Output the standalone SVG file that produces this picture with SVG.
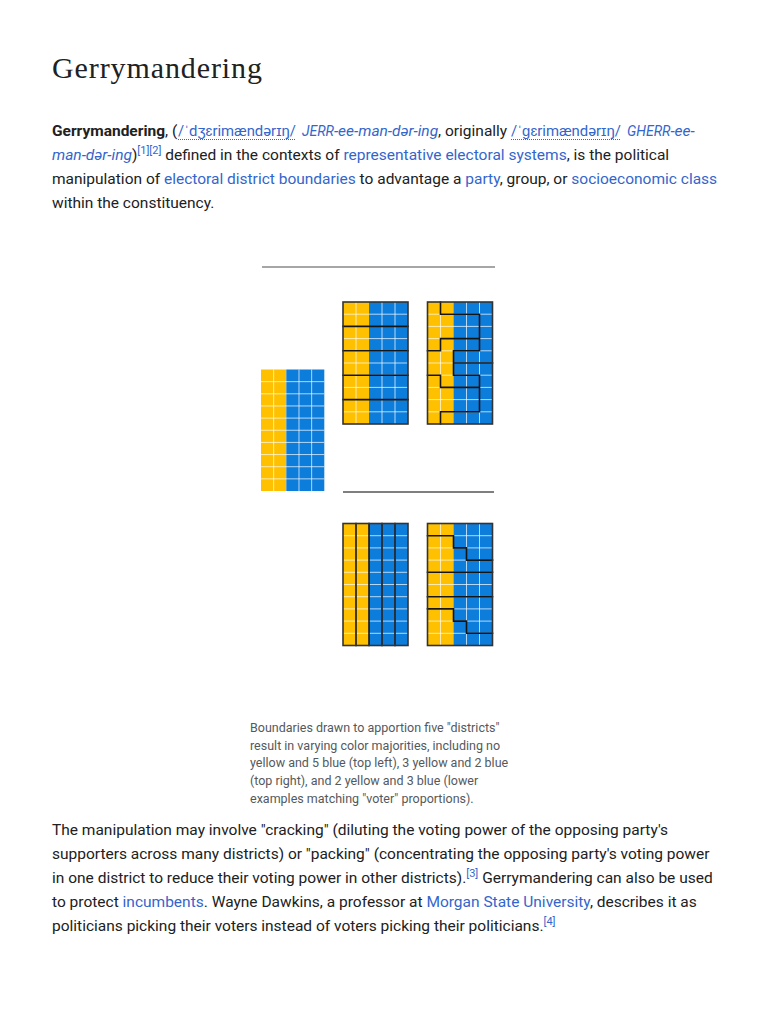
<svg xmlns="http://www.w3.org/2000/svg" xmlns:xlink="http://www.w3.org/1999/xlink" width="768" height="1024" viewBox="0 0 768 1024">
<style>
text{font-family:Roboto,"Liberation Sans",sans-serif;fill:#202122}
.body{font-size:15.5px}
.l{fill:#3366cc}
.i{font-style:italic}
.cap{font-size:12.5px;fill:#54595d}
.wl{stroke:#ffffff;stroke-opacity:0.7;stroke-width:1;fill:none}
.dl{stroke:#151515;stroke-width:1.6;fill:none;stroke-linecap:square}
.bd{stroke:#333333;stroke-width:1.6;fill:none}
.rule{stroke-width:1.6}
.dot{stroke:#3366cc;stroke-width:1;stroke-dasharray:1 1}
</style>
<defs>
<g id="base">
<rect x="0" y="0" width="26" height="122" fill="#FFC000"/>
<rect x="26" y="0" width="39" height="122" fill="#0D7DDC"/>
<path class="wl" d="M13 0V122M39 0V122M52 0V122M0 12.2H65M0 24.4H65M0 36.6H65M0 48.8H65M0 61H65M0 73.2H65M0 85.4H65M0 97.6H65M0 109.8H65"/>
</g>
</defs>
<rect width="768" height="1024" fill="#ffffff"/>
<g id="title">
<text x="52" y="78" font-size="30" textLength="210" style="font-family:'Liberation Serif',serif;fill:#202122">Gerrymandering</text>
</g>
<g id="intro">
<text class="body" x="52" y="136"><tspan font-weight="bold">Gerrymandering</tspan>, (</text>
<text class="body l" x="178" y="136" textLength="118" lengthAdjust="spacingAndGlyphs">/ˈdʒɛrimændərɪŋ/</text>
<text class="body" x="302" y="136"><tspan class="l i"><tspan font-size="14">JERR</tspan>-ee-man-dər-ing</tspan>, originally </text>
<text class="body l" x="511" y="136" textLength="110" lengthAdjust="spacingAndGlyphs">/ˈɡɛrimændərɪŋ/</text>
<text class="body l i" x="627" y="136"><tspan font-size="14">GHERR</tspan>-ee-</text>
<text class="body" x="52" y="160"><tspan class="l i">man-dər-ing</tspan>)<tspan class="l" font-size="11" dy="-6">[1][2]</tspan><tspan dy="6"> defined in the contexts of </tspan><tspan class="l">representative electoral systems</tspan>, is the political</text>
<text class="body" x="52" y="184">manipulation of <tspan class="l">electoral district boundaries</tspan> to advantage a <tspan class="l">party</tspan>, group, or <tspan class="l">socioeconomic class</tspan></text>
<text class="body" x="52" y="208">within the constituency.</text>
<line class="dot" x1="178" y1="139.5" x2="296" y2="139.5"/>
<line class="dot" x1="511" y1="139.5" x2="621" y2="139.5"/>
</g>
<g id="rules">
<line class="rule" x1="262" y1="267" x2="495" y2="267" stroke="#888888"/>
<line class="rule" x1="343" y1="492" x2="494" y2="492" stroke="#555555"/>
</g>
<g id="grid-voters" transform="translate(261,369.5) scale(0.974,0.996)">
<use xlink:href="#base" href="#base"/>
</g>
<g id="grid-top-left" transform="translate(343,302)">
<use xlink:href="#base" href="#base"/>
<path class="dl" d="M0 24.4H65M0 48.8H65M0 73.2H65M0 97.6H65"/>
<rect class="bd" x="0" y="0" width="65" height="122"/>
</g>
<g id="grid-top-right" transform="translate(427.5,302)">
<use xlink:href="#base" href="#base"/>
<path class="dl" d="M13 0V12.2H52V48.8H26V73.2H52V109.8H13V122M13 36.6H52M13 36.6V48.8H0M26 61H65M0 73.2H13V85.4H52"/>
<rect class="bd" x="0" y="0" width="65" height="122"/>
</g>
<g id="grid-bottom-left" transform="translate(343,523.5)">
<use xlink:href="#base" href="#base"/>
<path class="dl" d="M13 0V122M26 0V122M39 0V122M52 0V122"/>
<rect class="bd" x="0" y="0" width="65" height="122"/>
</g>
<g id="grid-bottom-right" transform="translate(427.5,523.5)">
<use xlink:href="#base" href="#base"/>
<path class="dl" d="M0 12.2H26V24.4H39V36.6H65M0 48.8H65M0 73.2H65M0 85.4H26V97.6H39V109.8H65"/>
<rect class="bd" x="0" y="0" width="65" height="122"/>
</g>
<g id="caption">
<text class="cap" x="250" y="732">Boundaries drawn to apportion five "districts"</text>
<text class="cap" x="250" y="750">result in varying color majorities, including no</text>
<text class="cap" x="250" y="767">yellow and 5 blue (top left), 3 yellow and 2 blue</text>
<text class="cap" x="250" y="785">(top right), and 2 yellow and 3 blue (lower</text>
<text class="cap" x="250" y="803">examples matching "voter" proportions).</text>
</g>
<g id="para2">
<text class="body" x="52" y="835">The manipulation may involve "cracking" (diluting the voting power of the opposing party's</text>
<text class="body" x="52" y="859">supporters across many districts) or "packing" (concentrating the opposing party's voting power</text>
<text class="body" x="52" y="883">in one district to reduce their voting power in other districts).<tspan class="l" font-size="11" dy="-6">[3]</tspan><tspan dy="6"> Gerrymandering can also be used</tspan></text>
<text class="body" x="52" y="907">to protect <tspan class="l">incumbents</tspan>. Wayne Dawkins, a professor at <tspan class="l">Morgan State University</tspan>, describes it as</text>
<text class="body" x="52" y="931">politicians picking their voters instead of voters picking their politicians.<tspan class="l" font-size="11" dy="-6">[4]</tspan></text>
</g>
</svg>
